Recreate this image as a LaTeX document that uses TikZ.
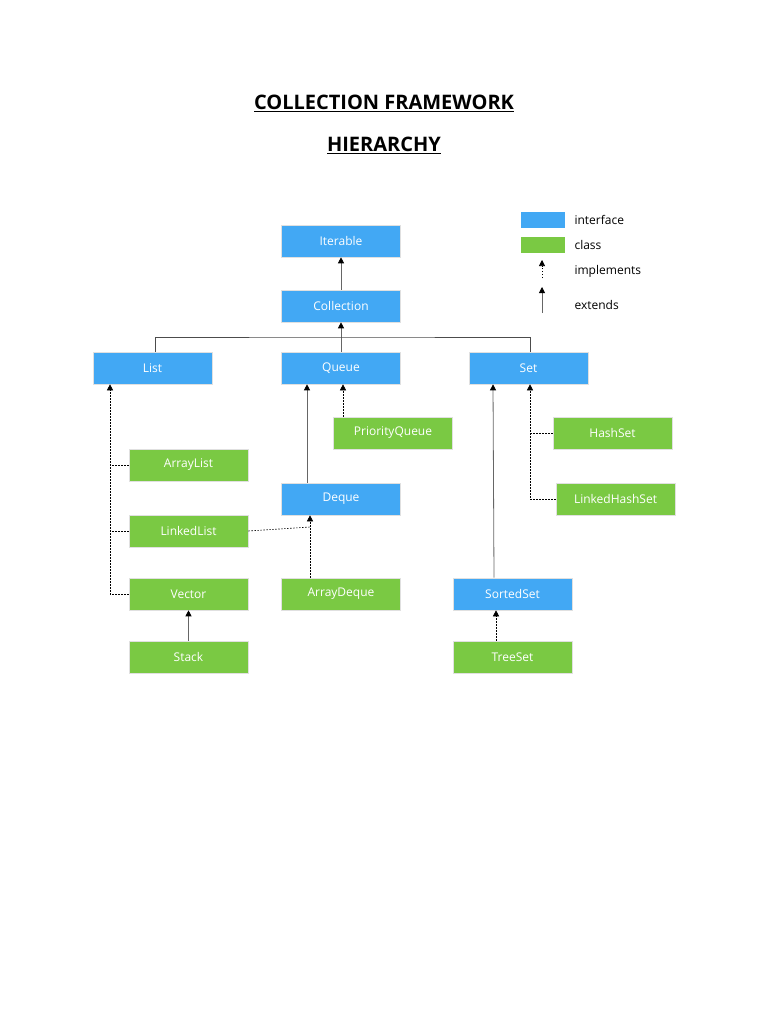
\documentclass[tikz,border=0pt]{standalone}
\usepackage{fontspec}
\setmainfont{Open Sans}
\usetikzlibrary{arrows.meta}
\definecolor{ib}{HTML}{42A8F4}
\definecolor{cg}{HTML}{7AC943}
\begin{document}
\begin{tikzpicture}[x=1pt,y=-1pt,
 box/.style={minimum width=119pt,minimum height=32pt,inner sep=0pt,text=white,font=\fontsize{12}{14}\selectfont,draw=black!12,line width=0.6pt},
 iface/.style={box,fill=ib},
 cls/.style={box,fill=cg},
 ext/.style={draw=black!60,line width=0.8pt,-{Triangle[length=6pt,width=6pt,color=black]}},
 imp/.style={draw=black,line width=0.6pt,dash pattern=on 1.5pt off 1.5pt,-{Triangle[length=6pt,width=6pt]}},
 impl/.style={draw=black,line width=0.6pt,dash pattern=on 1.5pt off 1.5pt},
 lab/.style={anchor=west,font=\fontsize{12}{14}\selectfont}]
\useasboundingbox (0,0) rectangle (768,1024);
\node[font=\bfseries\fontsize{20}{24}\selectfont] (t1) at (384,103) {\underline{COLLECTION FRAMEWORK}};
\node[font=\bfseries\fontsize{20}{24}\selectfont] (t2) at (384,145) {\underline{HIERARCHY}};
% legend
\node[fill=ib,minimum width=44pt,minimum height=16pt,inner sep=0pt] (li) at (543,220) {};
\node[fill=cg,minimum width=44pt,minimum height=16pt,inner sep=0pt] (lc) at (543,245) {};
\node[lab] (lt1) at (571,220) {interface};
\node[lab] (lt2) at (571,245) {class};
\node[lab] (lt3) at (571,271) {implements};
\node[lab] (lt4) at (571,305) {extends};
\coordinate (ia) at (542,278); \coordinate (ib2) at (542,260);
\coordinate (ea) at (542,313); \coordinate (eb) at (542,287);
\draw[imp] (ia) -- (ib2);
\draw[ext] (ea) -- (eb);
% nodes
\node[iface] (it) at (341,241) {Iterable};
\node[iface] (co) at (341,306) {Collection};
\node[iface] (li2) at (152.5,368) {List};
\node[iface] (qu) at (341,368) {Queue};
\node[iface] (se) at (528.5,368) {Set};
\node[cls] (pq) at (393,433) {PriorityQueue};
\node[cls] (al) at (188.5,465) {ArrayList};
\node[iface] (dq) at (341,499) {Deque};
\node[cls] (ll) at (188.5,531) {LinkedList};
\node[cls] (ve) at (188.5,594) {Vector};
\node[cls] (ad) at (341,594) {ArrayDeque};
\node[iface] (ss) at (512.5,594) {SortedSet};
\node[cls] (st) at (188.5,657) {Stack};
\node[cls] (ts) at (512.5,657) {TreeSet};
\node[cls] (hs) at (612.5,433) {HashSet};
\node[cls] (lhs) at (615.5,499) {LinkedHashSet};
% connectors
\draw[ext] (co.north) -- (it.south);
\draw[ext] (qu.north) -- (co.south);
\draw[draw=black!70,line width=0.8pt] (li2.north -| 155,0) |- (341,337) -| (se.north -| 530,0);
\draw[imp] (ve.west) -| ([xshift=-42.5pt]li2.south);
\draw[impl] (al.west) -- ++(-19,0);
\draw[impl] (ll.west) -- ++(-19,0);
\draw[ext] (dq.north -| 307,0) -- (qu.south -| 307,0);
\draw[imp] (pq.north -| 343,0) -- (qu.south -| 343,0);
\draw[impl] (ll.east) -- (310,527);
\draw[imp] (ad.north -| 310,0) -- (dq.south -| 310,0);
\draw[ext] (ss.north -| 494,0) -- (se.south -| 493,0);
\draw[imp] (lhs.west) -| (se.south -| 530,0);
\draw[impl] (hs.west) -- (530,433);
\draw[ext] (st.north) -- (ve.south);
\draw[imp] (ts.north -| 496,0) -- (ss.south -| 496,0);
\end{tikzpicture}
\end{document}
